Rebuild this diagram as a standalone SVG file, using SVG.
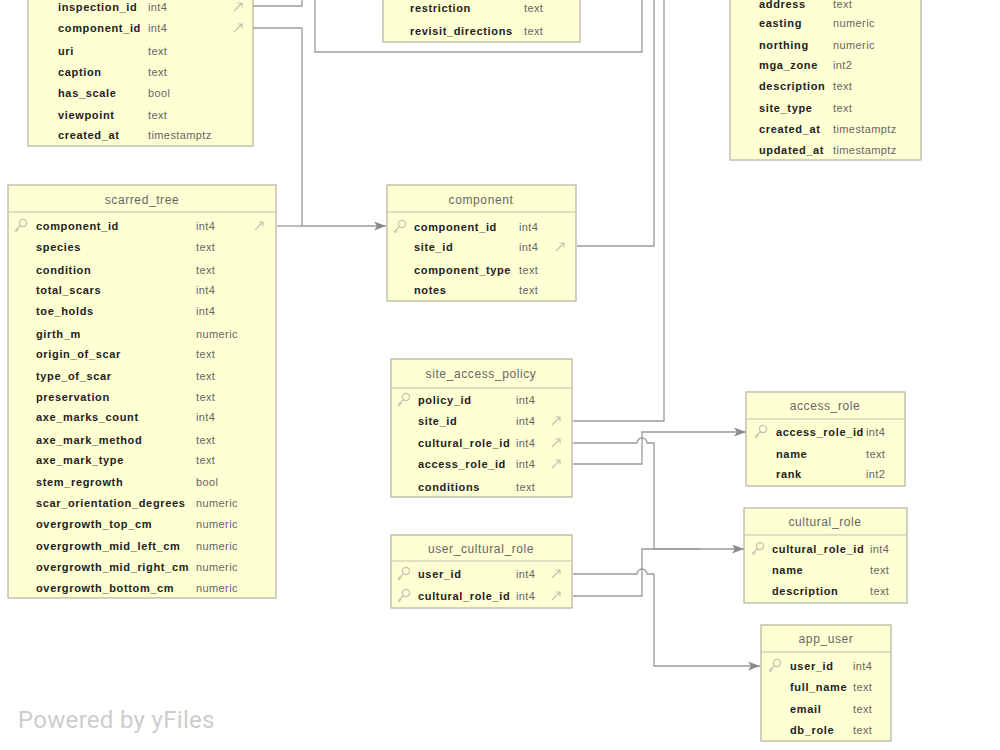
<svg xmlns="http://www.w3.org/2000/svg" xmlns:xlink="http://www.w3.org/1999/xlink" width="1000" height="750" viewBox="0 0 1000 750">
<style>
.tbl{fill:#ffffd4;stroke:#b9b9a4;stroke-width:1.3}
.sep{stroke:#c4c4ac;stroke-width:1.2}
.title{font-family:"Liberation Sans",Arial,sans-serif;font-size:12px;fill:#666;text-anchor:middle;letter-spacing:0.6px}
.fn{font-family:"Liberation Sans",Arial,sans-serif;font-size:11px;font-weight:bold;fill:#222;letter-spacing:0.65px}
.ft{font-family:"Liberation Sans",Arial,sans-serif;font-size:11px;fill:#666;letter-spacing:0.4px}
.conn{fill:none;stroke:#9a9a9a;stroke-width:1.3}
.ico{fill:none;stroke:#c2c2b0;stroke-width:1.2}
.brand{font-family:"Roboto","Liberation Sans",sans-serif;font-size:24px;fill:#cdcdcd;letter-spacing:0.3px}
</style>
<defs>
<marker id="arr" markerWidth="13" markerHeight="9" refX="12" refY="4.5" orient="auto" markerUnits="userSpaceOnUse">
<path d="M0,0 L12,4.5 L0,9 L3,4.5 Z" fill="#8a8a8a"/>
</marker>
<g id="key" class="ico"><circle cx="3" cy="-3" r="3.6"/><path d="M0.5,-0.5 L-5,5 M-3,3 L-1.5,4.5 M-4.5,4.5 L-3,6"/></g>
<g id="fk" class="ico"><path d="M-4,4 L4,-4 M-0.5,-4 L4,-4 L4,0.5"/></g>
</defs>
<rect width="1000" height="750" fill="#ffffff"/>

<g id="connectors">
<path class="conn" d="M253,6 H302 V0"/>
<path class="conn" d="M253,28 H302 V226 H386" marker-end="url(#arr)"/>
<path class="conn" d="M277,226 H302"/>
<path class="conn" d="M315,0 V52 H642 V0"/>
<path class="conn" d="M577,246 H654 V0"/>
<path class="conn" d="M573,421 H664 V0"/>
<path class="conn" d="M573,443 H637 A5,5 0 0 1 647,443 H654 V549 H744" marker-end="url(#arr)"/>
<path class="conn" d="M573,464 H642 V432 H746" marker-end="url(#arr)"/>
<path class="conn" d="M573,574 H637 A5,5 0 0 1 647,574 H654 V666 H760" marker-end="url(#arr)"/>
<path class="conn" d="M573,596 H642 V549 H700"/>
</g>

<g id="tbl_top_left">
<rect class="tbl" x="28" y="-60" width="225" height="206"/>
<text class="fn" x="58" y="11">inspection_id</text><text class="ft" x="148" y="11">int4</text><use href="#fk" x="238" y="7"/>
<text class="fn" x="58" y="32">component_id</text><text class="ft" x="148" y="32">int4</text><use href="#fk" x="238" y="28"/>
<text class="fn" x="58" y="55">uri</text><text class="ft" x="148" y="55">text</text>
<text class="fn" x="58" y="76">caption</text><text class="ft" x="148" y="76">text</text>
<text class="fn" x="58" y="97">has_scale</text><text class="ft" x="148" y="97">bool</text>
<text class="fn" x="58" y="119">viewpoint</text><text class="ft" x="148" y="119">text</text>
<text class="fn" x="58" y="139">created_at</text><text class="ft" x="148" y="139">timestamptz</text>
</g>

<g id="tbl_top_middle">
<rect class="tbl" x="383" y="-100" width="197" height="142"/>
<text class="fn" x="410" y="12">restriction</text><text class="ft" x="524" y="12">text</text>
<text class="fn" x="410" y="35">revisit_directions</text><text class="ft" x="524" y="35">text</text>
</g>

<g id="tbl_site">
<rect class="tbl" x="730" y="-120" width="191" height="280"/>
<text class="fn" x="759" y="8">address</text><text class="ft" x="833" y="8">text</text>
<text class="fn" x="759" y="27">easting</text><text class="ft" x="833" y="27">numeric</text>
<text class="fn" x="759" y="49">northing</text><text class="ft" x="833" y="49">numeric</text>
<text class="fn" x="759" y="69">mga_zone</text><text class="ft" x="833" y="69">int2</text>
<text class="fn" x="759" y="90">description</text><text class="ft" x="833" y="90">text</text>
<text class="fn" x="759" y="112">site_type</text><text class="ft" x="833" y="112">text</text>
<text class="fn" x="759" y="133">created_at</text><text class="ft" x="833" y="133">timestamptz</text>
<text class="fn" x="759" y="154">updated_at</text><text class="ft" x="833" y="154">timestamptz</text>
</g>

<g id="tbl_scarred_tree">
<rect class="tbl" x="8" y="185" width="268" height="413"/>
<line class="sep" x1="8" y1="212" x2="276" y2="212"/>
<text class="title" x="142" y="204">scarred_tree</text>
<use href="#key" x="20" y="226"/><use href="#fk" x="259" y="226"/>
<text class="fn" x="36" y="230">component_id</text><text class="ft" x="196" y="230">int4</text>
<text class="fn" x="36" y="251">species</text><text class="ft" x="196" y="251">text</text>
<text class="fn" x="36" y="274">condition</text><text class="ft" x="196" y="274">text</text>
<text class="fn" x="36" y="294">total_scars</text><text class="ft" x="196" y="294">int4</text>
<text class="fn" x="36" y="315">toe_holds</text><text class="ft" x="196" y="315">int4</text>
<text class="fn" x="36" y="338">girth_m</text><text class="ft" x="196" y="338">numeric</text>
<text class="fn" x="36" y="358">origin_of_scar</text><text class="ft" x="196" y="358">text</text>
<text class="fn" x="36" y="380">type_of_scar</text><text class="ft" x="196" y="380">text</text>
<text class="fn" x="36" y="401">preservation</text><text class="ft" x="196" y="401">text</text>
<text class="fn" x="36" y="421">axe_marks_count</text><text class="ft" x="196" y="421">int4</text>
<text class="fn" x="36" y="444">axe_mark_method</text><text class="ft" x="196" y="444">text</text>
<text class="fn" x="36" y="464">axe_mark_type</text><text class="ft" x="196" y="464">text</text>
<text class="fn" x="36" y="486">stem_regrowth</text><text class="ft" x="196" y="486">bool</text>
<text class="fn" x="36" y="507">scar_orientation_degrees</text><text class="ft" x="196" y="507">numeric</text>
<text class="fn" x="36" y="528">overgrowth_top_cm</text><text class="ft" x="196" y="528">numeric</text>
<text class="fn" x="36" y="550">overgrowth_mid_left_cm</text><text class="ft" x="196" y="550">numeric</text>
<text class="fn" x="36" y="571">overgrowth_mid_right_cm</text><text class="ft" x="196" y="571">numeric</text>
<text class="fn" x="36" y="592">overgrowth_bottom_cm</text><text class="ft" x="196" y="592">numeric</text>
</g>

<g id="tbl_component">
<rect class="tbl" x="387" y="185" width="189" height="116"/>
<line class="sep" x1="387" y1="212" x2="576" y2="212"/>
<text class="title" x="481" y="204">component</text>
<use href="#key" x="399" y="227"/><use href="#fk" x="560" y="247"/>
<text class="fn" x="414" y="231">component_id</text><text class="ft" x="519" y="231">int4</text>
<text class="fn" x="414" y="251">site_id</text><text class="ft" x="519" y="251">int4</text>
<text class="fn" x="414" y="274">component_type</text><text class="ft" x="519" y="274">text</text>
<text class="fn" x="414" y="294">notes</text><text class="ft" x="519" y="294">text</text>
</g>

<g id="tbl_site_access_policy">
<rect class="tbl" x="391" y="359" width="181" height="138"/>
<line class="sep" x1="391" y1="388" x2="572" y2="388"/>
<text class="title" x="481" y="378">site_access_policy</text>
<use href="#key" x="403" y="400"/>
<use href="#fk" x="556" y="421"/><use href="#fk" x="556" y="443"/><use href="#fk" x="556" y="464"/>
<text class="fn" x="418" y="404">policy_id</text><text class="ft" x="516" y="404">int4</text>
<text class="fn" x="418" y="425">site_id</text><text class="ft" x="516" y="425">int4</text>
<text class="fn" x="418" y="447">cultural_role_id</text><text class="ft" x="516" y="447">int4</text>
<text class="fn" x="418" y="468">access_role_id</text><text class="ft" x="516" y="468">int4</text>
<text class="fn" x="418" y="491">conditions</text><text class="ft" x="516" y="491">text</text>
</g>

<g id="tbl_user_cultural_role">
<rect class="tbl" x="391" y="535" width="181" height="73"/>
<line class="sep" x1="391" y1="561" x2="572" y2="561"/>
<text class="title" x="481" y="553">user_cultural_role</text>
<use href="#key" x="403" y="574"/><use href="#key" x="403" y="596"/>
<use href="#fk" x="556" y="574"/><use href="#fk" x="556" y="596"/>
<text class="fn" x="418" y="578">user_id</text><text class="ft" x="516" y="578">int4</text>
<text class="fn" x="418" y="600">cultural_role_id</text><text class="ft" x="516" y="600">int4</text>
</g>

<g id="tbl_access_role">
<rect class="tbl" x="746" y="392" width="159" height="94"/>
<line class="sep" x1="746" y1="419" x2="905" y2="419"/>
<text class="title" x="825" y="410">access_role</text>
<use href="#key" x="760" y="432"/>
<text class="fn" x="776" y="436">access_role_id</text><text class="ft" x="866" y="436">int4</text>
<text class="fn" x="776" y="458">name</text><text class="ft" x="866" y="458">text</text>
<text class="fn" x="776" y="478">rank</text><text class="ft" x="866" y="478">int2</text>
</g>

<g id="tbl_cultural_role">
<rect class="tbl" x="744" y="508" width="163" height="95"/>
<line class="sep" x1="744" y1="535" x2="907" y2="535"/>
<text class="title" x="825" y="526">cultural_role</text>
<use href="#key" x="757" y="549"/>
<text class="fn" x="772" y="553">cultural_role_id</text><text class="ft" x="870" y="553">int4</text>
<text class="fn" x="772" y="574">name</text><text class="ft" x="870" y="574">text</text>
<text class="fn" x="772" y="595">description</text><text class="ft" x="870" y="595">text</text>
</g>

<g id="tbl_app_user">
<rect class="tbl" x="761" y="625" width="130" height="116"/>
<line class="sep" x1="761" y1="652" x2="891" y2="652"/>
<text class="title" x="826" y="643">app_user</text>
<use href="#key" x="774" y="666"/>
<text class="fn" x="790" y="670">user_id</text><text class="ft" x="853" y="670">int4</text>
<text class="fn" x="790" y="691">full_name</text><text class="ft" x="853" y="691">text</text>
<text class="fn" x="790" y="713">email</text><text class="ft" x="853" y="713">text</text>
<text class="fn" x="790" y="734">db_role</text><text class="ft" x="853" y="734">text</text>
</g>

<text class="brand" x="18" y="728">Powered by yFiles</text>
</svg>
